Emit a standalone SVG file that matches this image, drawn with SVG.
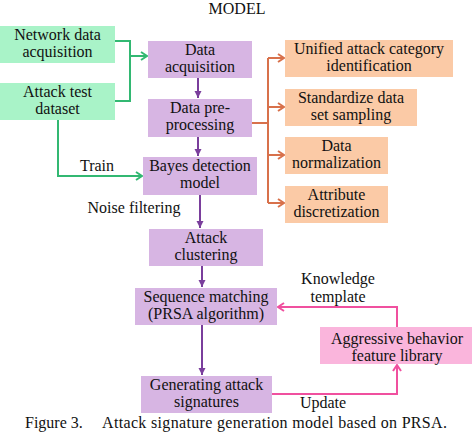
<svg xmlns="http://www.w3.org/2000/svg" width="474" height="443" viewBox="0 0 474 443">
<style>
text{font-family:"Liberation Serif","Times New Roman",serif;font-size:16px;fill:#111;text-anchor:middle}
.s{text-anchor:start}
.g{fill:#a9f3c8}
.p{fill:#d7b5e3}
.o{fill:#fbcaa6}
.k{fill:#fab5dc}
.lg{stroke:#32b872;stroke-width:2;fill:none}
.lp{stroke:#7a3e9c;stroke-width:2;fill:none}
.lo{stroke:#d8714b;stroke-width:2;fill:none}
.lk{stroke:#f0509f;stroke-width:2;fill:none}
</style>
<defs>
<marker id="ag" markerWidth="10" markerHeight="10" refX="8" refY="5" orient="auto" markerUnits="userSpaceOnUse"><path d="M2,1 L8,5 L2,9" fill="none" stroke="#32b872" stroke-width="2"/></marker>
<marker id="ao" markerWidth="10" markerHeight="10" refX="8" refY="5" orient="auto" markerUnits="userSpaceOnUse"><path d="M2,1 L8,5 L2,9" fill="none" stroke="#d8714b" stroke-width="2"/></marker>
<marker id="ak" markerWidth="10" markerHeight="10" refX="8" refY="5" orient="auto" markerUnits="userSpaceOnUse"><path d="M2,1 L8,5 L2,9" fill="none" stroke="#f0509f" stroke-width="2"/></marker>
<marker id="app" markerWidth="10" markerHeight="10" refX="8" refY="5" orient="auto" markerUnits="userSpaceOnUse"><path d="M1,1.5 L8,5 L1,8.5 Z" fill="#7a3e9c"/></marker>
</defs>
<rect width="474" height="443" fill="#fff"/>
<text x="237" y="14">MODEL</text>

<g id="connectors">
<path class="lg" d="M115,41 H130 V101 H115"/>
<path class="lg" d="M130,56 H147" marker-end="url(#ag)"/>
<path class="lg" d="M58,120 V176 H142" marker-end="url(#ag)"/>
<path class="lp" d="M198,78 V98" marker-end="url(#app)"/>
<path class="lp" d="M198,137 V156" marker-end="url(#app)"/>
<path class="lp" d="M200,195 V228" marker-end="url(#app)"/>
<path class="lp" d="M202,266 V287" marker-end="url(#app)"/>
<path class="lp" d="M202,325 V375" marker-end="url(#app)"/>
<path class="lo" d="M252,123 H268"/>
<path class="lo" d="M268,58 V203"/>
<path class="lo" d="M268,58 H284" marker-end="url(#ao)"/>
<path class="lo" d="M268,107 H284" marker-end="url(#ao)"/>
<path class="lo" d="M268,155 H284" marker-end="url(#ao)"/>
<path class="lo" d="M268,203 H284" marker-end="url(#ao)"/>
<path class="lk" d="M397,327 V307 H278" marker-end="url(#ak)"/>
<path class="lk" d="M272,394 H397 V365" marker-end="url(#ak)"/>
<text x="97" y="171">Train</text>
<text x="134" y="213">Noise filtering</text>
<text x="338" y="284">Knowledge</text>
<text x="338" y="302">template</text>
<text x="323" y="408">Update</text>
</g>

<g id="network-data-acquisition"><rect class="g" x="0" y="26" width="115" height="37"/><text x="57.5" y="40">Network data</text><text x="57.5" y="57">acquisition</text></g>
<g id="attack-test-dataset"><rect class="g" x="0" y="83" width="115" height="37"/><text x="57.5" y="97">Attack test</text><text x="57.5" y="114">dataset</text></g>
<g id="data-acquisition"><rect class="p" x="148" y="41" width="104" height="37"/><text x="200" y="55">Data</text><text x="200" y="72">acquisition</text></g>
<g id="data-preprocessing"><rect class="p" x="148" y="99" width="104" height="38"/><text x="200" y="113">Data pre-</text><text x="200" y="130">processing</text></g>
<g id="bayes-detection-model"><rect class="p" x="143" y="157" width="114" height="38"/><text x="200" y="171">Bayes detection</text><text x="200" y="188">model</text></g>
<g id="attack-clustering"><rect class="p" x="149" y="229" width="114" height="37"/><text x="206" y="243">Attack</text><text x="206" y="260">clustering</text></g>
<g id="sequence-matching"><rect class="p" x="135" y="288" width="142" height="37"/><text x="206" y="302">Sequence matching</text><text x="206" y="319">(PRSA algorithm)</text></g>
<g id="generating-attack-signatures"><rect class="p" x="141" y="376" width="131" height="37"/><text x="206.5" y="390">Generating attack</text><text x="206.5" y="407">signatures</text></g>
<g id="aggressive-behavior-feature-library"><rect class="k" x="320" y="327" width="152" height="37"/><text x="397" y="344">Aggressive behavior</text><text x="397" y="361">feature library</text></g>
<g id="unified-attack-category"><rect class="o" x="285" y="40" width="168" height="37"/><text x="369" y="54">Unified attack category</text><text x="369" y="71">identification</text></g>
<g id="standardize-data-set-sampling"><rect class="o" x="285" y="89" width="132" height="37"/><text x="351" y="103">Standardize data</text><text x="351" y="120">set sampling</text></g>
<g id="data-normalization"><rect class="o" x="285" y="137" width="103" height="37"/><text x="336.5" y="151">Data</text><text x="336.5" y="168">normalization</text></g>
<g id="attribute-discretization"><rect class="o" x="285" y="186" width="103" height="37"/><text x="336.5" y="200">Attribute</text><text x="336.5" y="217">discretization</text></g>

<text class="s" x="25" y="428">Figure 3.</text>
<text class="s" x="102" y="428" textLength="345" lengthAdjust="spacing">Attack signature generation model based on PRSA.</text>
</svg>
